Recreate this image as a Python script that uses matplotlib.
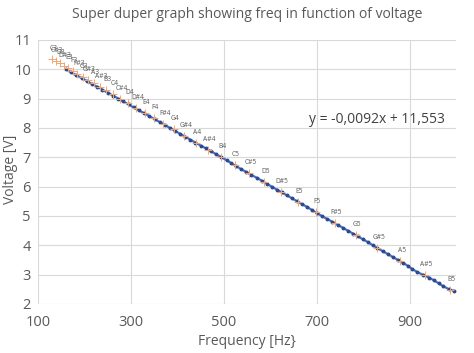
import matplotlib
matplotlib.use('Agg')
import matplotlib.pyplot as plt

# measured points (blue series)
meas_voltage = [10.0, 9.9, 9.8, 9.7, 9.6, 9.5, 9.4, 9.3, 9.2, 9.1,
                9.0, 8.9, 8.8, 8.7, 8.6, 8.5, 8.4, 8.3, 8.2, 8.1,
                8.0, 7.9, 7.8, 7.7, 7.6, 7.5, 7.4, 7.3, 7.2, 7.1,
                7.0, 6.9, 6.8, 6.7, 6.6, 6.5, 6.4, 6.3, 6.2, 6.1,
                6.0, 5.9, 5.8, 5.7, 5.6, 5.5, 5.4, 5.3, 5.2, 5.1,
                5.0, 4.9, 4.8, 4.7, 4.6, 4.5, 4.4, 4.3, 4.2, 4.1,
                4.0, 3.9, 3.8, 3.7, 3.6, 3.5, 3.4, 3.3, 3.2, 3.1,
                3.0, 2.9, 2.8, 2.7, 2.6, 2.5, 2.45]
meas_freq = [160, 171, 182, 194, 205, 216, 228, 239, 250, 262,
             273, 284, 295, 306, 317, 329, 340, 351, 362, 373,
             384, 395, 406, 417, 428, 439, 450, 462, 473, 484,
             495, 506, 516, 526, 537, 548, 559, 571, 582, 593,
             603, 614, 625, 636, 647, 658, 669, 680, 690, 700,
             711, 722, 734, 745, 756, 767, 778, 789, 800, 811,
             821, 831, 842, 853, 864, 875, 886, 896, 905, 915,
             928, 942, 953, 963, 973, 985, 995]

# note reference points (orange series)
note_names = ['C3', 'C#3', 'D3', 'D#3', 'E3', 'F3', 'F#3', 'G3', 'G#3', 'A3', 'A#3', 'B3',
              'C4', 'C#4', 'D4', 'D#4', 'E4', 'F4', 'F#4', 'G4', 'G#4', 'A4', 'A#4', 'B4',
              'C5', 'C#5', 'D5', 'D#5', 'E5', 'F5', 'F#5', 'G5', 'G#5', 'A5', 'A#5', 'B5']
note_freq = [130.81, 138.59, 146.83, 155.56, 164.81, 174.61, 185.00, 196.00, 207.65, 220.00, 233.08, 246.94,
             261.63, 277.18, 293.66, 311.13, 329.63, 349.23, 369.99, 392.00, 415.30, 440.00, 466.16, 493.88,
             523.25, 554.37, 587.33, 622.25, 659.26, 698.46, 739.99, 783.99, 830.61, 880.00, 932.33, 987.77]
note_voltage = [10.35, 10.28, 10.20, 10.12, 10.04, 9.95, 9.85, 9.75, 9.64, 9.53, 9.41, 9.28,
                9.15, 9.00, 8.85, 8.69, 8.52, 8.34, 8.15, 7.95, 7.73, 7.50, 7.26, 7.01,
                6.74, 6.45, 6.15, 5.83, 5.49, 5.13, 4.75, 4.34, 3.91, 3.46, 2.98, 2.47]

x_ticks = [100, 300, 500, 700, 900]
y_ticks = [2, 3, 4, 5, 6, 7, 8, 9, 10, 11]

plt.rcParams['font.family'] = ['Open Sans', 'DejaVu Sans']
grey = '#595959'

fig = plt.figure(figsize=(4.74, 3.53), dpi=100)
ax = fig.add_axes([0.080, 0.139, 0.882, 0.748])

ax.plot(meas_freq, meas_voltage, color='#4472C4', lw=1.6, zorder=2)
ax.plot(meas_freq, meas_voltage, 'o', color='#2F4B8C', ms=1.8, zorder=3)
ax.plot(note_freq, note_voltage, '+', color='#F4A56E', ms=6, mew=0.7, zorder=4)

for name, f, v in zip(note_names, note_freq, note_voltage):
    ax.annotate(name, (f, v), xytext=(1, 5), textcoords='offset points',
                ha='center', va='bottom', fontsize=4.8, color=grey)

ax.text(684, 8.27, 'y = -0,0092x + 11,553', fontsize=10, color='#404040',
        ha='left', va='center')

ax.set_xlim(100, 1000)
ax.set_ylim(2, 11)
ax.set_xticks(x_ticks)
ax.set_yticks(y_ticks)
ax.grid(True, color='#d9d9d9', lw=0.8)
ax.set_axisbelow(True)
for s in ax.spines.values():
    s.set_visible(False)
ax.tick_params(axis='x', length=0, labelsize=10.5, colors=grey, pad=8)
ax.tick_params(axis='y', length=0, labelsize=10.5, colors=grey, pad=5)
ax.set_xlabel('Frequency [Hz}', fontsize=10, color=grey, labelpad=3)
fig.text(0.022, 0.52, 'Voltage [V]', rotation=90, fontsize=10, color=grey,
         ha='center', va='center')
ax.set_title('Super duper graph showing freq in function of voltage',
             fontsize=10, color=grey, pad=16)

fig.savefig('out.png', dpi=100)
